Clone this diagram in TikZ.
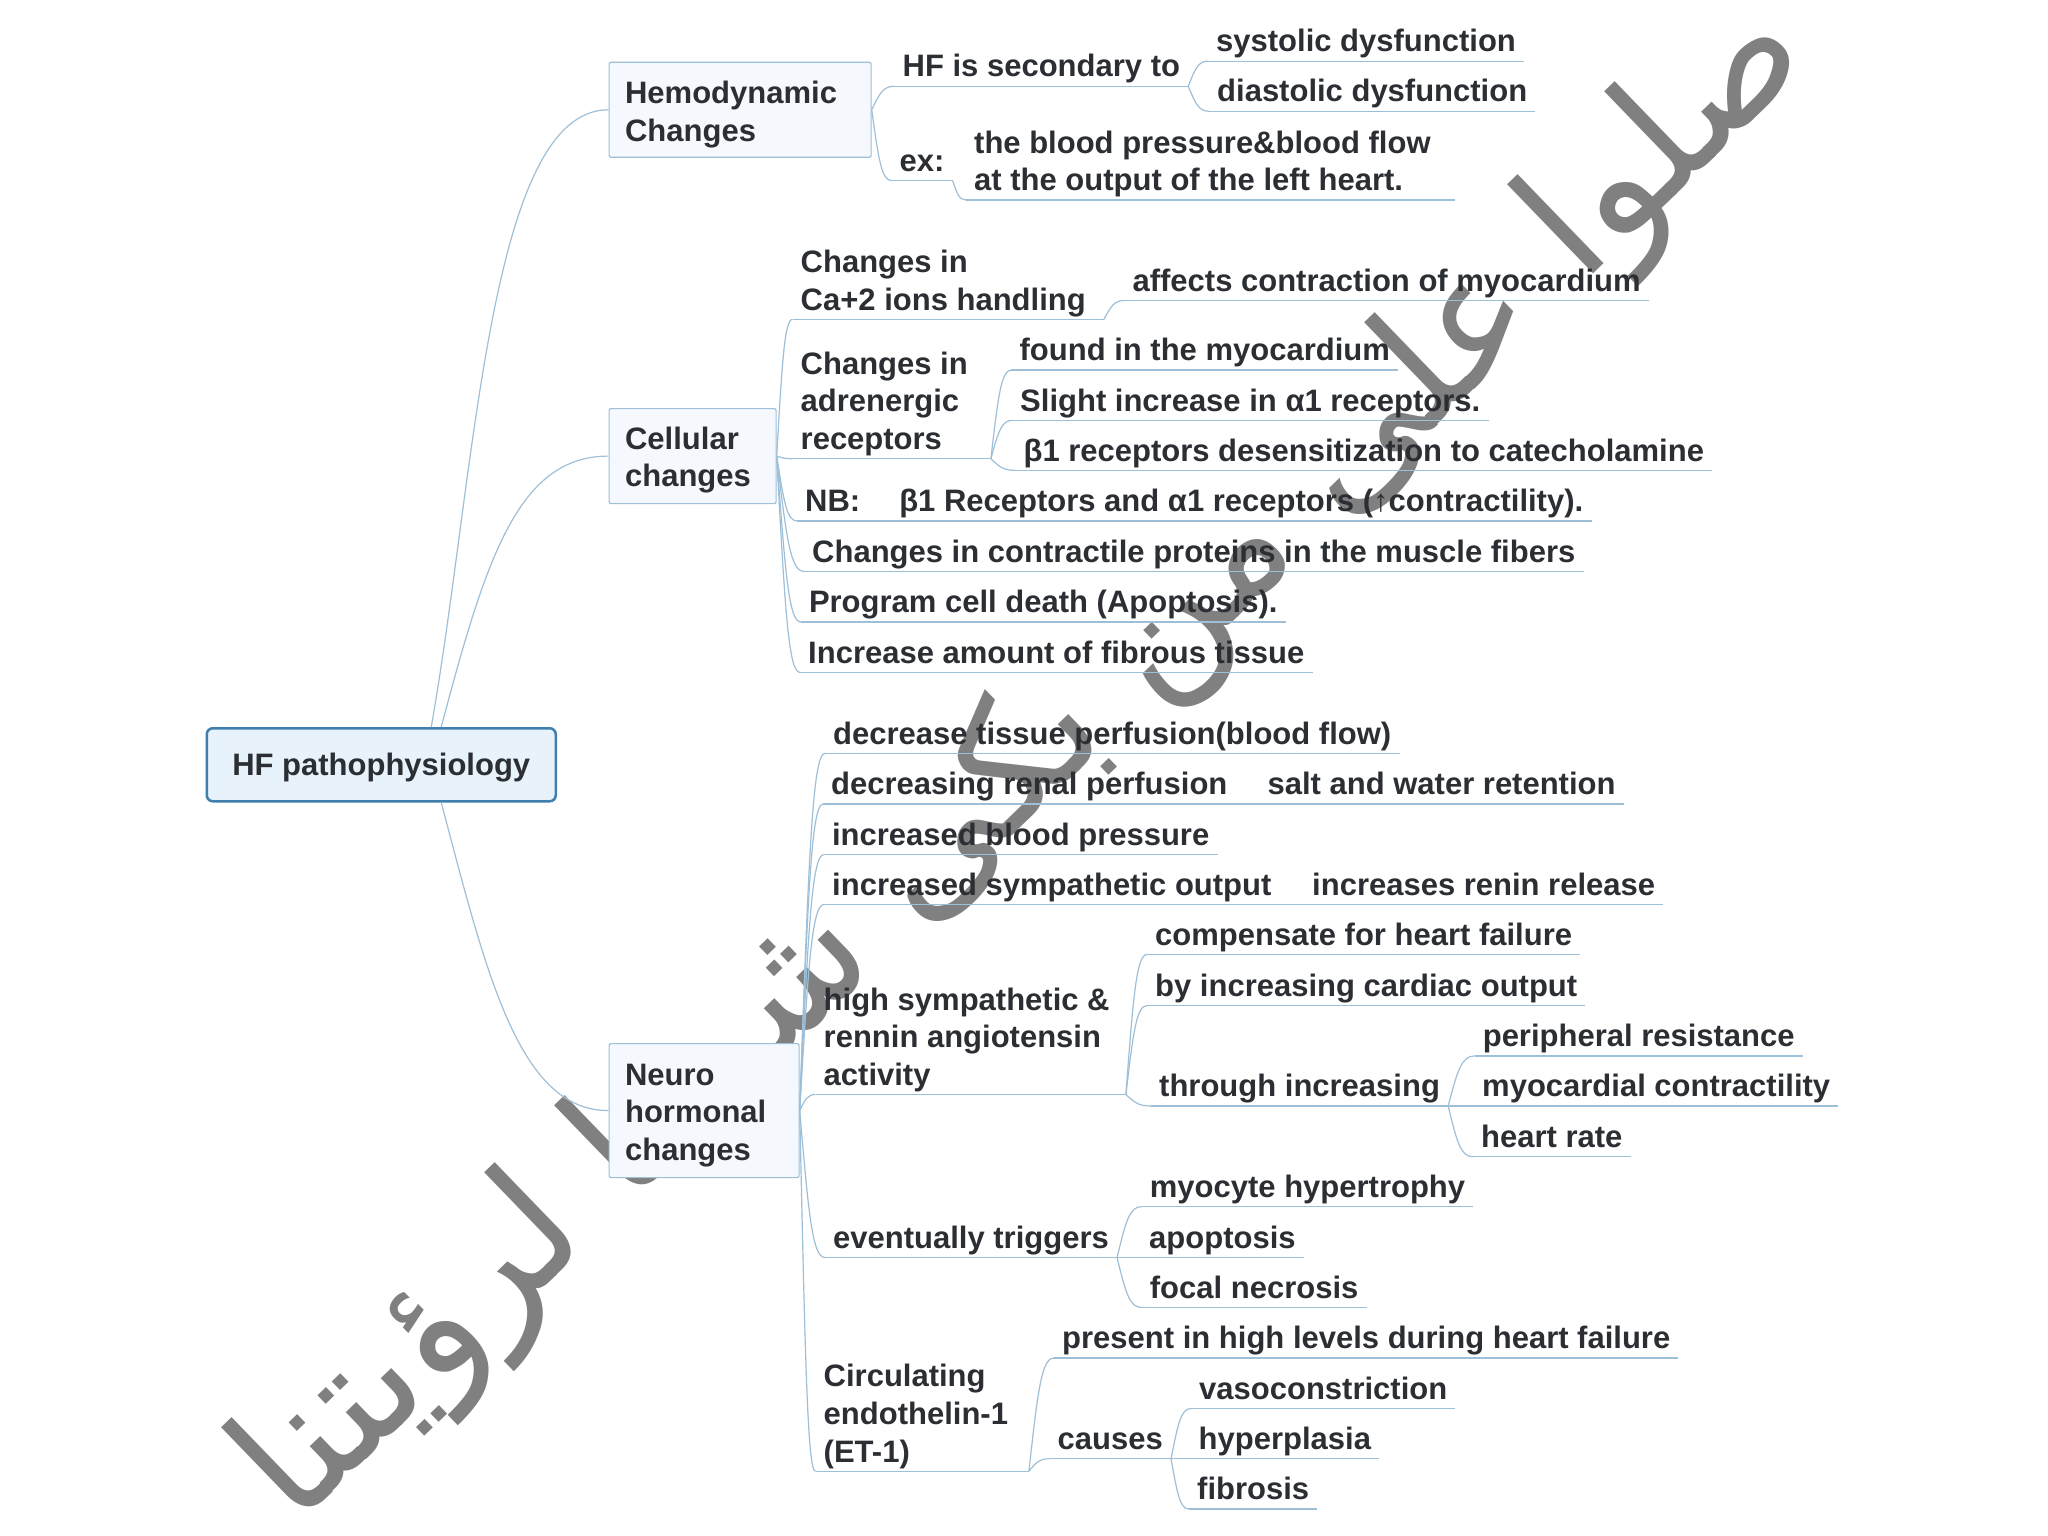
\documentclass[tikz,border=0pt]{standalone}
\usepackage{fontspec}
\usetikzlibrary{calc}
\setmainfont{Liberation Sans}
\newfontfamily\arabicfont[Script=Arabic]{DejaVu Sans}
\TeXXeTstate=1
\definecolor{mapline}{HTML}{9DBFD8}
\definecolor{maptext}{HTML}{2B2F33}
\definecolor{rootedge}{HTML}{3F7FAE}
\definecolor{rootfill}{HTML}{E8F2FA}
\definecolor{hubfill}{HTML}{F5F9FD}
\definecolor{markgray}{HTML}{808080}
\tikzset{
  x=1pt,y=-1pt,
  mapfont/.style={font=\fontsize{31}{37.6}\selectfont\bfseries,text=maptext},
  rootbox/.style={mapfont,draw=rootedge,fill=rootfill,line width=2.5pt,rounded corners=6pt,anchor=north west,minimum width=349,minimum height=73,inner sep=0pt,text depth=0pt},
  hubbox/.style={mapfont,draw=mapline,fill=hubfill,line width=1.2pt,rounded corners=2pt,anchor=north west,align=flush left,inner xsep=16pt,inner ysep=0pt},
  underl/.style={draw=mapline,line width=1.2pt},
  leaf/.style={mapfont,anchor=south west,align=flush left,inner xsep=8pt,inner ysep=3pt,text depth=6pt,
    append after command={(\tikzlastnode.south west) edge[underl] (\tikzlastnode.south east)}},
  twolines/.style={text depth=43.6pt},
  threelines/.style={text depth=81.2pt},
  conn/.style={draw=mapline,line width=1.2pt,to path={let \p1=(\tikztostart),\p2=(\tikztotarget) in
    .. controls ({\x1+.35*(\x2-\x1)},{\y1+.7*(\y2-\y1)}) and ({\x1+.5*(\x2-\x1)},\y2) .. (\tikztotarget)}},
  trunk/.style={draw=mapline,line width=1.2pt}
}
\begin{document}
\begin{tikzpicture}
\useasboundingbox (0,0) rectangle (2048,1536);

% the writing that runs across the whole page
\node[text=markgray,rotate=44,font=\fontsize{163}{163}\selectfont\arabicfont] (mark) at (1026,764) {\beginR صلوا على من بكى شوقا لرؤيتنا\endR};

\node[rootbox] (root) at (205.5,727) {HF pathophysiology};

\node[hubbox,text width=230,minimum height=95,text depth=35pt] (hemo) at (608.5,61.7) {Hemodynamic\\Changes};

\node[hubbox,text width=135,minimum height=95,text depth=36pt] (cell) at (608.5,408) {Cellular\\changes};

\node[hubbox,text width=158,minimum height=134,text depth=72pt] (neuro) at (608.5,1043) {Neuro\\hormonal\\changes};

\node[leaf] (second) at (894.5,86.2) {HF is secondary to};

\node[leaf] (systolic) at (1208,61.2) {systolic dysfunction};

\node[leaf] (diastolic) at (1209,111.2) {diastolic dysfunction};

\node[leaf] (ex) at (891.4,180.6) {ex:};

\node[leaf,twolines,text width=473] (blood) at (966,200) {the blood pressure\&blood flow\\at the output of the left heart.};

\node[leaf,twolines,text width=295] (calcium) at (792.5,319.4) {Changes in\\Ca+2 ions handling};

\node[leaf] (affects) at (1124.4,300.5) {affects contraction of myocardium};

\node[leaf,threelines,text width=182] (adrenergic) at (792.5,458.7) {Changes in\\adrenergic\\receptors};

\node[leaf] (found) at (1011.4,370) {found in the myocardium};

\node[leaf] (slight) at (1012,420.4) {Slight increase in α1 receptors.};

\node[leaf] (desens) at (1015.4,470.4) {β1 receptors desensitization to catecholamine};

\node[leaf] (nb) at (797,521) {NB:\hspace{39pt}β1 Receptors and α1 receptors (↑contractility).};

\node[leaf] (proteins) at (804,571.4) {Changes in contractile proteins in the muscle fibers};

\node[leaf] (program) at (800.8,622) {Program cell death (Apoptosis).};

\node[leaf] (fibrous) at (800,672.4) {Increase amount of fibrous tissue};

\node[leaf] (perfusion) at (825,753.3) {decrease tissue perfusion(blood flow)};

\node[leaf] (renal) at (823,804) {decreasing renal perfusion};

\node[leaf] (salt) at (1259.4,804) {salt and water retention};

\node[leaf] (pressure) at (823.8,854.6) {increased blood pressure};

\node[leaf] (sympa) at (824,904.5) {increased sympathetic output};

\node[leaf] (renin) at (1304,904.5) {increases renin release};

\node[leaf,threelines,text width=294] (high) at (815.5,1094.5) {high sympathetic \&\\rennin angiotensin\\activity};

\node[leaf] (compensate) at (1147,954.5) {compensate for heart failure};

\node[leaf] (cardiac) at (1147,1005.6) {by increasing cardiac output};

\node[leaf] (through) at (1151,1106) {through increasing};

\node[leaf] (peripheral) at (1474.6,1055.9) {peripheral resistance};

\node[leaf] (contract) at (1474,1106) {myocardial contractility};

\node[leaf] (rate) at (1473,1156.8) {heart rate};

\node[leaf] (triggers) at (825,1257.5) {eventually triggers};

\node[leaf] (myocyte) at (1141.7,1206.6) {myocyte hypertrophy};

\node[leaf] (apoptosis) at (1141,1257.5) {apoptosis};

\node[leaf] (necrosis) at (1141.7,1307.5) {focal necrosis};

\node[leaf,threelines,text width=197] (endo) at (815.5,1471.3) {Circulating\\endothelin-1\\(ET-1)};

\node[leaf] (levels) at (1054,1358) {present in high levels during heart failure};

\node[leaf] (causes) at (1049.5,1458.7) {causes};

\node[leaf] (vaso) at (1191,1408.5) {vasoconstriction};

\node[leaf] (hyper) at (1190.5,1458.7) {hyperplasia};

\node[leaf] (fibrosis) at (1189,1509) {fibrosis};

% from the root to the three boxes
\draw[trunk] ([xshift=50]root.north) .. controls +(45,-256) and +(-120,0) .. (hemo.west);

\draw[trunk] ([xshift=60]root.north) .. controls +(45,-170) and +(-90,0) .. (cell.west);

\draw[trunk] ([xshift=60]root.south) .. controls +(45,170) and +(-90,0) .. (neuro.west);

\draw[conn] (hemo.east) to (second.south west);

\draw[conn] (hemo.east) to (ex.south west);

\draw[conn] (second.south east) to (systolic.south west);

\draw[conn] (second.south east) to (diastolic.south west);

\draw[conn] (ex.south east) to (blood.south west);

\draw[conn] (cell.east) to (calcium.south west);

\draw[conn] (cell.east) to (adrenergic.south west);

\draw[conn] (cell.east) to (nb.south west);

\draw[conn] (cell.east) to (proteins.south west);

\draw[conn] (cell.east) to (program.south west);

\draw[conn] (cell.east) to (fibrous.south west);

\draw[conn] (calcium.south east) to (affects.south west);

\draw[conn] (adrenergic.south east) to (found.south west);

\draw[conn] (adrenergic.south east) to (slight.south west);

\draw[conn] (adrenergic.south east) to (desens.south west);

\draw[conn] (neuro.east) to (perfusion.south west);

\draw[conn] (neuro.east) to (renal.south west);

\draw[conn] (neuro.east) to (pressure.south west);

\draw[conn] (neuro.east) to (sympa.south west);

\draw[conn] (neuro.east) to (high.south west);

\draw[conn] (neuro.east) to (triggers.south west);

\draw[conn] (neuro.east) to (endo.south west);

\draw[conn] (renal.south east) to (salt.south west);

\draw[conn] (sympa.south east) to (renin.south west);

\draw[conn] (high.south east) to (compensate.south west);

\draw[conn] (high.south east) to (cardiac.south west);

\draw[conn] (high.south east) to (through.south west);

\draw[conn] (through.south east) to (peripheral.south west);

\draw[conn] (through.south east) to (contract.south west);

\draw[conn] (through.south east) to (rate.south west);

\draw[conn] (triggers.south east) to (myocyte.south west);

\draw[conn] (triggers.south east) to (apoptosis.south west);

\draw[conn] (triggers.south east) to (necrosis.south west);

\draw[conn] (endo.south east) to (levels.south west);

\draw[conn] (endo.south east) to (causes.south west);

\draw[conn] (causes.south east) to (vaso.south west);

\draw[conn] (causes.south east) to (hyper.south west);

\draw[conn] (causes.south east) to (fibrosis.south west);
\end{tikzpicture}
\end{document}
